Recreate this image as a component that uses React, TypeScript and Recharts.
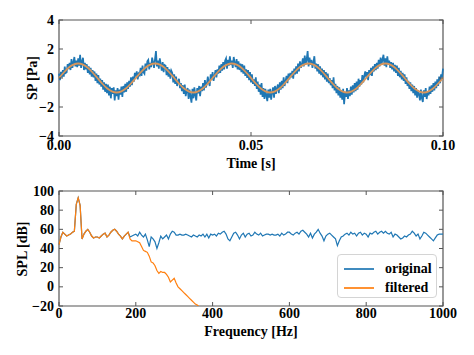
import { LineChart, Line, XAxis, YAxis, ReferenceArea } from "recharts";

// sound pressure, sampled every 0.25 ms
const SP_DT = 0.00025;
const RAW_SP = [
  0.3, -0.15, 0.42, 0.05, 0.55, 0.1, 0.78, 0.35, 0.4, 0.95, 0.62, 1.05, 0.55, 1.3, 0.7, 1.1, 1.45, 0.8, 1.2, 0.75,
  1.35, 0.85, 1.6, 0.7, 1.15, 1.4, 0.55, 1.05, 0.6, 0.95, 0.35, 0.8, 0.25, 0.7, 0.1, 0.55, 0.05, 0.45, -0.2, 0.3,
  -0.35, 0.2, -0.45, -0.05, -0.6, -0.15, -0.8, -0.3, -0.95, -0.4, -1.05, -0.45, -1.2, -0.6, -1.4, -0.7, -1.1, -0.65, -1.55, -0.85,
  -1.25, -0.7, -1.5, -0.8, -1.15, -0.6, -1.3, -0.55, -1.0, -0.4, -0.95, -0.3, -0.75, -0.2, -0.6, 0.05, -0.5, 0.1, -0.25, 0.35,
  0.1, 0.45, -0.1, 0.3, 0.2, 0.7, 0.15, 0.85, 0.4, 0.3, 1.0, 0.5, 1.15, 1.25, 0.6, 1.05, 0.75, 1.4, 1.1, 0.7,
  1.3, 1.85, 0.8, 1.2, 0.65, 1.35, 0.95, 0.5, 1.1, 0.4, 0.9, 0.85, 0.2, 0.75, 0.1, 0.6, -0.05, 0.5, 0.35, -0.3,
  0.25, -0.4, 0.1, -0.55, -0.25, -0.05, -0.7, -0.35, -0.9, -0.5, -1.1, -0.45, -1.25, -0.85, -0.7, -1.45, -0.8, -1.3, -1.7, -0.75,
  -1.4, -0.65, -1.2, -1.55, -0.7, -1.05, -0.55, -1.25, -0.6, -0.9, -0.35, -0.85, -0.15, -0.65, -0.4, 0.1, -0.3, -0.55, 0.25, -0.1,
  0.4, -0.2, 0.15, 0.55, 0.05, 0.6, 0.3, 0.85, 0.35, 0.95, 0.5, 1.1, 0.6, 1.2, 1.35, 0.65, 1.25, 0.85, 1.5, 0.9,
  1.2, 0.7, 1.45, 1.05, 0.75, 1.3, 0.6, 1.15, 0.55, 1.0, 0.4, 0.95, 0.3, 0.85, 0.15, 0.6, 0.0, 0.55, -0.15, 0.4,
  -0.3, 0.25, -0.4, -0.1, -0.55, 0.05, -0.75, -0.25, -0.95, -0.45, -1.15, -0.35, -1.3, -0.7, -1.45, -0.75, -1.25, -1.6, -0.8, -1.35,
  -0.75, -1.5, -1.0, -0.65, -1.35, -0.55, -1.1, -0.7, -0.45, -1.05, -0.3, -0.8, -0.2, -0.7, 0.05, -0.55, -0.2, 0.15, -0.35, 0.3,
  -0.1, 0.35, 0.05, 0.5, -0.05, 0.65, 0.25, 0.8, 0.3, 1.0, 0.45, 1.15, 0.7, 0.95, 1.35, 0.8, 1.55, 0.95, 1.3, 1.85,
  0.8, 1.4, 0.9, 1.25, 0.7, 1.1, 1.5, 0.65, 1.0, 0.45, 0.95, 0.3, 0.8, 0.2, 0.65, 0.05, 0.55, -0.1, 0.4, -0.25,
  0.3, -0.35, 0.0, -0.5, -0.15, -0.7, 0.05, -0.85, -0.4, -1.05, -0.55, -1.2, -0.65, -1.35, -0.9, -1.5, -0.75, -1.8, -1.0, -1.3,
  -0.7, -1.45, -0.85, -1.25, -0.6, -1.15, -0.5, -1.0, -0.35, -0.9, -0.25, -0.8, -0.05, -0.6, -0.15, -0.45, 0.2, -0.3, 0.15, 0.45,
  0.05, 0.4, -0.15, 0.55, 0.2, 0.7, 0.15, 0.8, 0.45, 0.95, 0.55, 1.05, 0.65, 1.25, 0.8, 1.4, 0.9, 1.3, 1.6, 0.85,
  1.35, 0.75, 1.5, 0.95, 1.2, 0.7, 1.1, 0.6, 1.05, 0.45, 0.9, 0.35, 0.85, 0.15, 0.7, 0.05, 0.5, -0.1, 0.35, -0.2,
  0.25, -0.4, 0.05, -0.55, -0.2, -0.75, -0.3, -0.9, -0.45, -1.05, -0.55, -1.2, -0.7, -1.35, -0.85, -1.15, -1.55, -0.8, -1.4, -1.65,
  -0.85, -1.3, -0.7, -1.45, -0.95, -1.2, -0.6, -1.1, -0.5, -0.95, -0.35, -0.85, -0.25, -0.7, -0.1, -0.55, 0.1, -0.35, 0.25, 0.05,
  0.65,
];

// filtered pressure, sampled every 1.25 ms
const FILT_DT = 0.00125;
const FILTERED_SP = [
  0, 0.38, 0.71, 0.92, 1, 0.92, 0.71, 0.38, 0, -0.38, -0.71, -0.92, -1, -0.92, -0.71, -0.38,
  0, 0.38, 0.71, 0.92, 1, 0.92, 0.71, 0.38, 0, -0.38, -0.71, -0.92, -1, -0.92, -0.71, -0.38,
  0, 0.38, 0.71, 0.92, 1, 0.92, 0.71, 0.38, 0, -0.38, -0.71, -0.92, -1, -0.92, -0.71, -0.38,
  0, 0.38, 0.71, 0.92, 1, 0.92, 0.71, 0.38, 0, -0.38, -0.71, -0.92, -1, -0.92, -0.71, -0.38,
  0, 0.38, 0.71, 0.92, 1, 0.92, 0.71, 0.38, 0, -0.38, -0.71, -0.92, -1, -0.92, -0.71, -0.38,
  0,
];

const TIME_TICKS = [0, 0.05, 0.1];
const SP_TICKS = [-4, -2, 0, 2, 4];

// spectra, 5 Hz bins
const FREQ_STEP = 5;
const SPL_ORIGINAL = [
  44, 52, 57, 55, 53, 54, 55, 57, 58, 86, 93, 85, 50, 55, 58, 60, 57, 53, 51, 52,
  52, 51, 53, 55, 56, 52, 54, 57, 59, 60, 58, 55, 53, 50, 53, 55, 57, 52, 53, 54,
  55, 53, 57, 54, 52, 55, 49, 42, 52, 50, 47, 40, 46, 53, 50, 52, 54, 50, 55, 58,
  57, 54, 54, 55, 54, 54, 55, 54, 53, 52, 54, 53, 52, 54, 53, 55, 52, 55, 51, 55,
  54, 55, 53, 56, 55, 57, 58, 55, 50, 48, 52, 56, 57, 54, 50, 54, 56, 52, 55, 56,
  53, 54, 57, 55, 54, 56, 53, 54, 55, 55, 54, 55, 54, 54, 55, 53, 56, 54, 55, 57,
  57, 55, 54, 56, 57, 55, 58, 59, 57, 55, 52, 56, 51, 55, 57, 60, 56, 53, 48, 53,
  55, 56, 54, 52, 50, 43, 48, 52, 53, 55, 56, 54, 57, 55, 56, 53, 56, 57, 54, 56,
  55, 52, 56, 55, 57, 58, 55, 57, 58, 56, 58, 56, 55, 57, 52, 55, 54, 52, 50, 51,
  53, 52, 54, 55, 58, 56, 53, 55, 50, 53, 57, 56, 54, 52, 50, 48, 51, 54, 55, 55,
  55,
];
const SPL_FILTERED = [
  44, 52, 57, 55, 53, 54, 55, 57, 58, 86, 93, 85, 50, 55, 58, 60, 57, 53, 51, 52,
  52, 51, 53, 55, 56, 52, 54, 57, 59, 60, 58, 55, 53, 50, 53, 55, 57, 50, 48, 48,
  48, 47, 46, 42, 38, 37, 36, 32, 26, 25, 22, 17, 14, 16, 15, 15, 13, 10, 5, 7,
  9, 4, 0, -2, -4, -6, -8, -10, -12, -14, -16, -18, -19, -21, -24,
];

const FREQ_TICKS = [0, 200, 400, 600, 800, 1000];
const SPL_TICKS = [-20, 0, 20, 40, 60, 80, 100];

const BLUE = "#1f77b4";
const ORANGE = "#ff7f0e";
const FRAME = "#555";

const rawData = RAW_SP.map((v, i) => ({ x: i * SP_DT, y: v }));
const filtData = FILTERED_SP.map((v, i) => ({ x: i * FILT_DT, y: v }));
const origSpec = SPL_ORIGINAL.map((v, i) => ({ x: i * FREQ_STEP, y: v }));
const filtSpec = SPL_FILTERED.map((v, i) => ({ x: i * FREQ_STEP, y: v }));

const FONT = {
  fontFamily: '"Liberation Serif", "Times New Roman", serif',
  fontWeight: 700,
  fontSize: 14,
  fill: "#000",
};

const num = (v: number) => (v < 0 ? "\u2212" + Math.abs(v) : String(v));

// plot box positions inside each chart
const LEFT = 59;
const RIGHT = 443;

const xTick = (top: number, bottom: number, labelY: number, fmt: (v: number) => string) =>
  (props: any) => {
    const { x, payload } = props;
    return (
      <g>
        <line x1={x} x2={x} y1={bottom} y2={bottom - 4} stroke={FRAME} />
        <line x1={x} x2={x} y1={top} y2={top + 4} stroke={FRAME} />
        <text x={x} y={labelY} textAnchor="middle" dominantBaseline="central" {...FONT}>
          {fmt(payload.value)}
        </text>
      </g>
    );
  };

const yTick = (props: any) => {
  const { y, payload } = props;
  return (
    <g>
      <line x1={LEFT} x2={LEFT + 4} y1={y} y2={y} stroke={FRAME} />
      <line x1={RIGHT - 4} x2={RIGHT} y1={y} y2={y} stroke={FRAME} />
      <text x={LEFT - 5} y={y} textAnchor="end" dominantBaseline="central" {...FONT}>
        {num(payload.value)}
      </text>
    </g>
  );
};

const Title = ({ tx, ty, text, rot }: any) => (
  <text
    x={tx}
    y={ty}
    textAnchor="middle"
    dominantBaseline="central"
    transform={rot ? `rotate(-90 ${tx} ${ty})` : undefined}
    {...FONT}
  >
    {text}
  </text>
);

function TimePlot() {
  return (
    <LineChart width={474} height={175} margin={{ top: 20, right: 474 - RIGHT, left: 0, bottom: 0 }}>
      <XAxis
        dataKey="x"
        type="number"
        domain={[0, 0.1]}
        ticks={TIME_TICKS}
        interval={0}
        height={39}
        axisLine={false}
        tickLine={false}
        tick={xTick(20, 136, 145, (v) => v.toFixed(2))}
        label={<Title tx={251} ty={163} text="Time [s]" />}
      />
      <YAxis
        dataKey="y"
        type="number"
        domain={[-4, 4]}
        ticks={SP_TICKS}
        interval={0}
        width={LEFT}
        axisLine={false}
        tickLine={false}
        tick={yTick}
        label={<Title tx={32} ty={78} text="SP [Pa]" rot />}
      />
      <ReferenceArea x1={0} x2={0.1} y1={-4} y2={4} fill="none" stroke={FRAME} strokeWidth={1.2} />
      <Line data={rawData} dataKey="y" stroke={BLUE} strokeWidth={1.7} dot={false} isAnimationActive={false} />
      <Line data={filtData} dataKey="y" type="monotone" stroke="#d8955a" strokeWidth={1.8} dot={false} isAnimationActive={false} />
    </LineChart>
  );
}

function SpectrumPlot() {
  return (
    <LineChart width={474} height={185} margin={{ top: 21, right: 474 - RIGHT, left: 0, bottom: 0 }}>
      <XAxis
        dataKey="x"
        type="number"
        domain={[0, 1000]}
        ticks={FREQ_TICKS}
        interval={0}
        height={49}
        axisLine={false}
        tickLine={false}
        tick={xTick(21, 136, 143, String)}
        label={<Title tx={251} ty={161} text="Frequency [Hz]" />}
      />
      <YAxis
        dataKey="y"
        type="number"
        domain={[-20, 100]}
        allowDataOverflow
        ticks={SPL_TICKS}
        interval={0}
        width={LEFT}
        axisLine={false}
        tickLine={false}
        tick={yTick}
        label={<Title tx={22} ty={79} text="SPL [dB]" rot />}
      />
      <ReferenceArea x1={0} x2={1000} y1={-20} y2={100} fill="none" stroke={FRAME} strokeWidth={1.2} />
      <Line data={origSpec} dataKey="y" stroke={BLUE} strokeWidth={1.2} dot={false} isAnimationActive={false} />
      <Line data={filtSpec} dataKey="y" stroke={ORANGE} strokeWidth={1.2} dot={false} isAnimationActive={false} />
    </LineChart>
  );
}

const legendRow = (color: string, text: string, top: number) => (
  <div style={{ position: "absolute", left: 0, top, height: 0 }}>
    <div style={{ position: "absolute", left: 6, top: -1, width: 30, height: 1.5, background: color, opacity: 0.85 }} />
    <div
      style={{
        position: "absolute",
        left: 47,
        top: -9,
        lineHeight: "18px",
        fontFamily: FONT.fontFamily,
        fontWeight: 700,
        fontSize: 14,
        whiteSpace: "nowrap",
      }}
    >
      {text}
    </div>
  </div>
);

export default function App() {
  return (
    <div style={{ position: "absolute", left: 0, top: 0, width: 474, height: 355, background: "#fff" }}>
      <div style={{ position: "absolute", left: 0, top: 0 }}>
        <TimePlot />
      </div>
      <div style={{ position: "absolute", left: 0, top: 170 }}>
        <SpectrumPlot />
      </div>
      <div
        style={{
          position: "absolute",
          left: 337,
          top: 254,
          width: 100,
          height: 44,
          boxSizing: "border-box",
          border: "1px solid #d4d4d4",
          borderRadius: 4,
          background: "rgba(255,255,255,0.85)",
        }}
      >
        {legendRow(BLUE, "original", 14)}
        {legendRow(ORANGE, "filtered", 33)}
      </div>
    </div>
  );
}
